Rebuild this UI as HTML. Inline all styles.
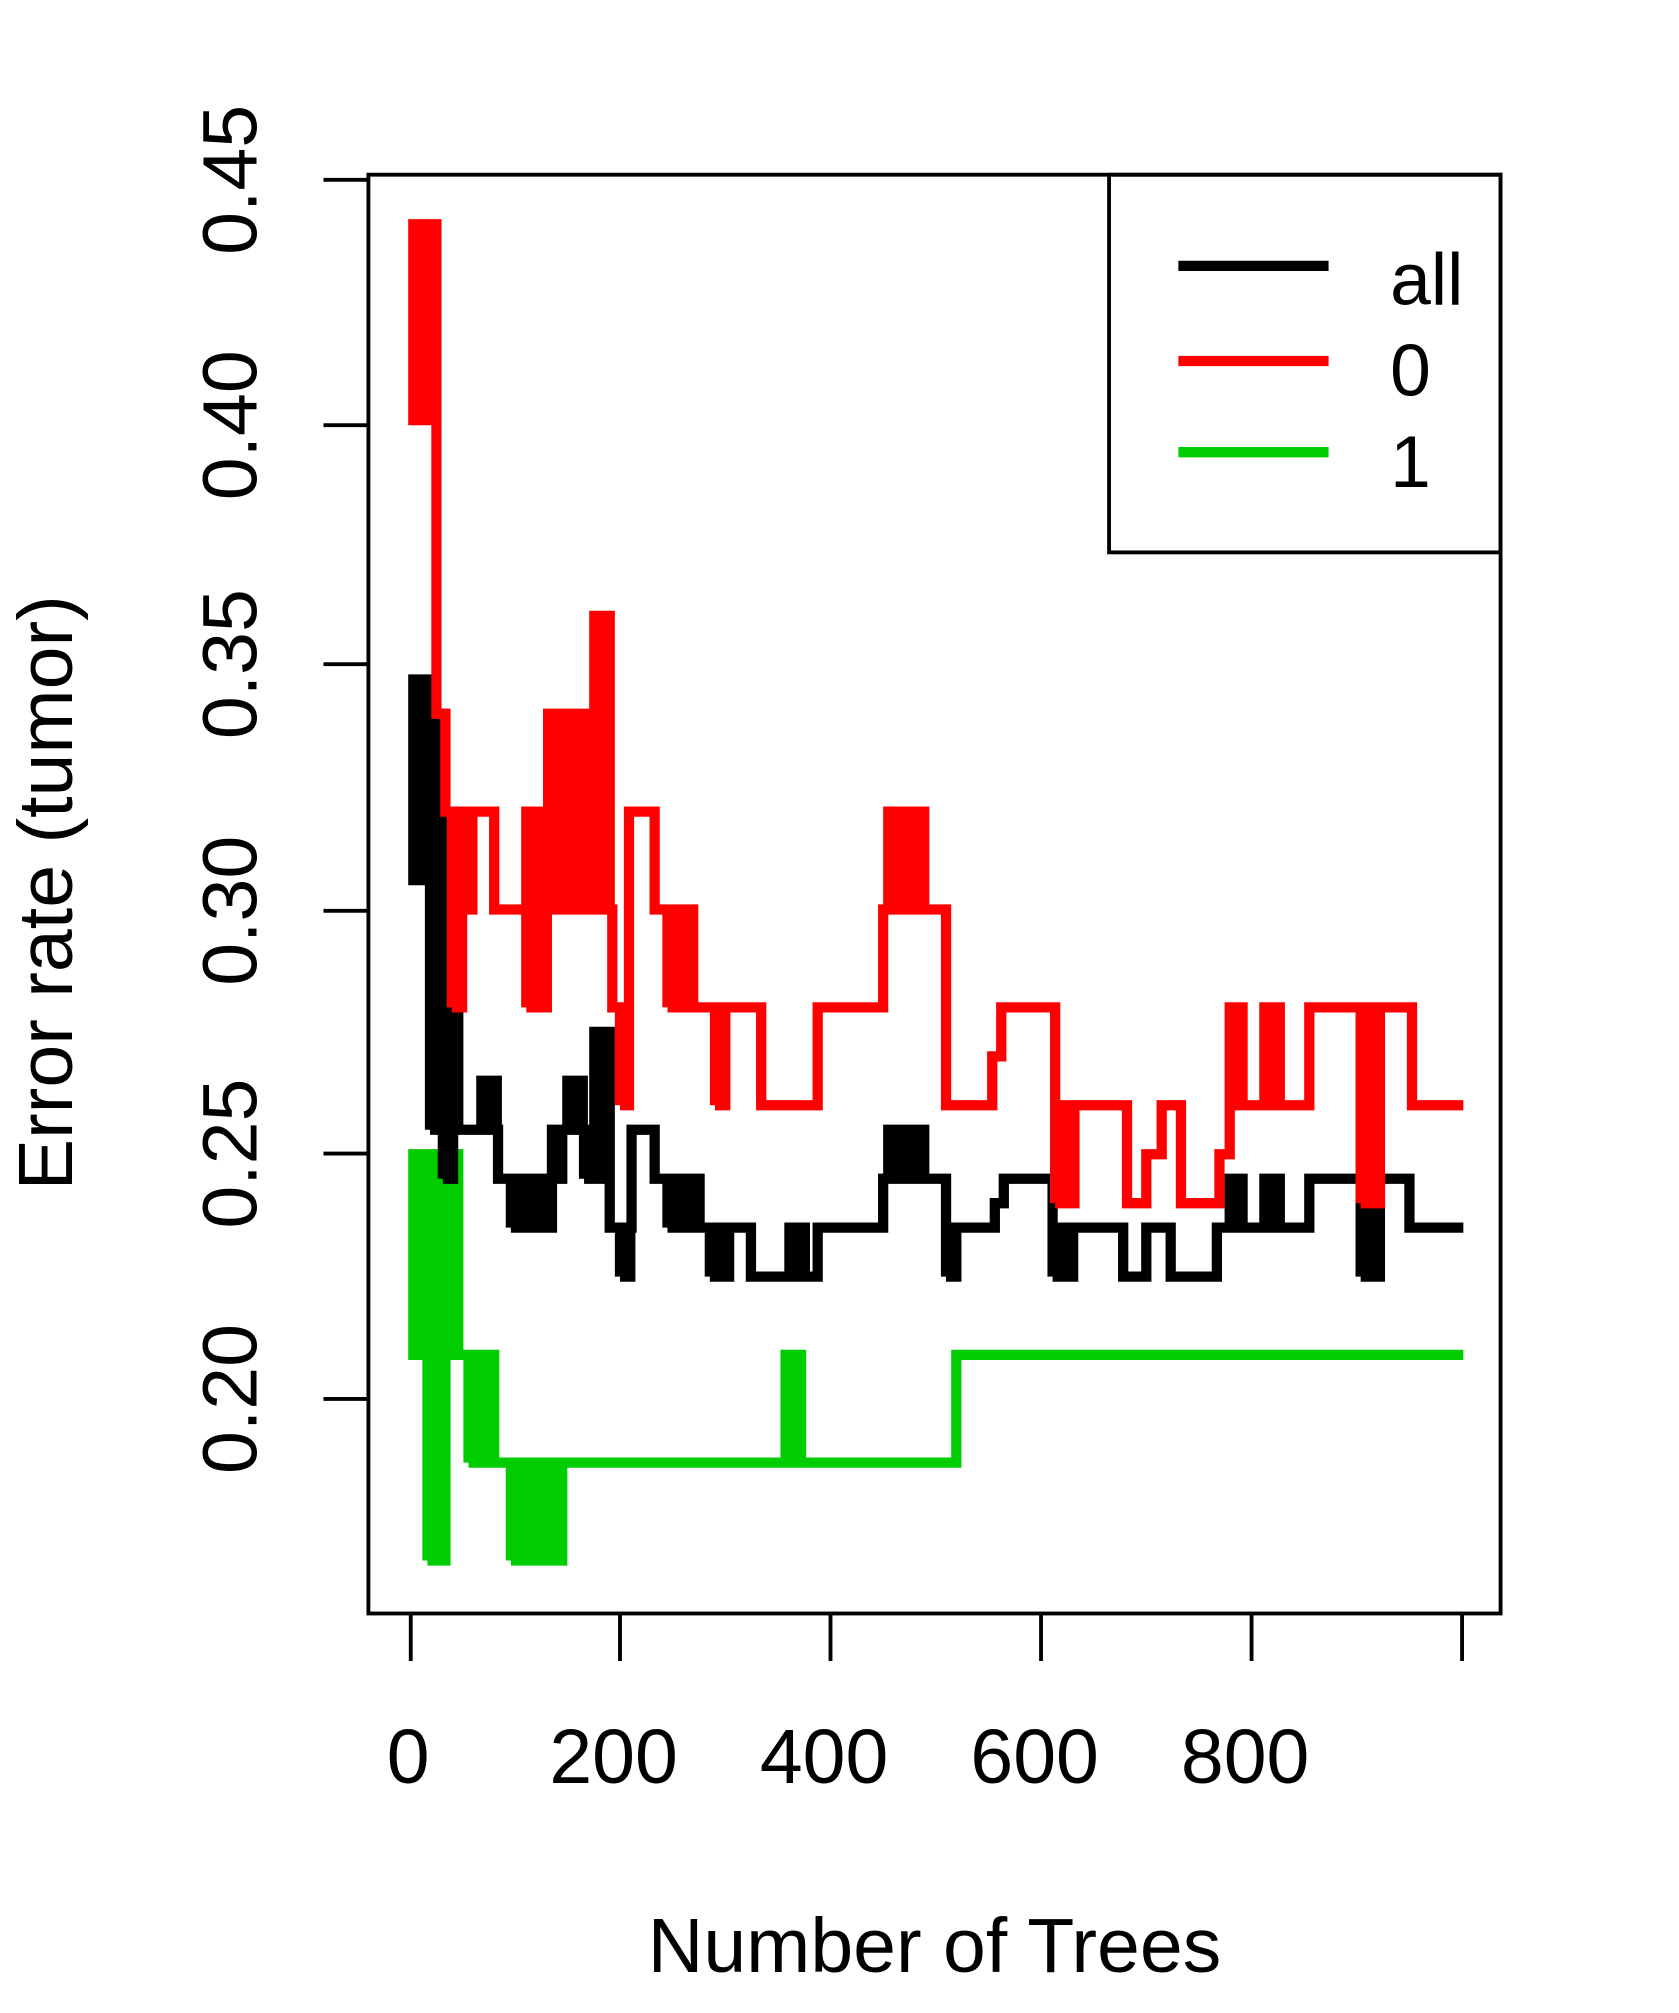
<!DOCTYPE html>
<html><head><meta charset="utf-8"><style>
html,body{margin:0;padding:0;background:#fff;}
svg{display:block;}
text{font-family:"Liberation Sans",Arial,sans-serif;}
</style></head><body>
<svg id="s" width="1679" height="2013" viewBox="0 0 1308 1567" preserveAspectRatio="none" xmlns="http://www.w3.org/2000/svg">
<rect x="0" y="0" width="1308" height="1567" fill="#fff"/>
<g id="series"></g>
<rect x="287" y="136" width="882" height="1120" fill="none" stroke="#000" stroke-width="3"/>
<rect x="864" y="136" width="305" height="294" fill="none" stroke="#000" stroke-width="3"/>
<line x1="918" y1="207" x2="1035" y2="207" stroke="#000" stroke-width="8"/>
<line x1="918" y1="281" x2="1035" y2="281" stroke="#ff0000" stroke-width="8"/>
<line x1="918" y1="352" x2="1035" y2="352" stroke="#00cd00" stroke-width="8"/>
<text x="1083" y="237" font-size="57">all</text>
<text x="1083" y="308" font-size="57">0</text>
<text x="1083" y="379" font-size="57">1</text>
<g stroke="#000" stroke-width="3">
<line x1="252" y1="140" x2="287" y2="140"/><line x1="252" y1="331" x2="287" y2="331"/>
<line x1="252" y1="517" x2="287" y2="517"/><line x1="252" y1="709" x2="287" y2="709"/>
<line x1="252" y1="898" x2="287" y2="898"/><line x1="252" y1="1089" x2="287" y2="1089"/>
<line x1="320" y1="1256" x2="320" y2="1293"/><line x1="483" y1="1256" x2="483" y2="1293"/>
<line x1="647" y1="1256" x2="647" y2="1293"/><line x1="811" y1="1256" x2="811" y2="1293"/>
<line x1="975" y1="1256" x2="975" y2="1293"/><line x1="1139" y1="1256" x2="1139" y2="1293"/>
</g>
<g font-size="60" text-anchor="middle">
<text x="318" y="1388">0</text><text x="478" y="1388">200</text><text x="642" y="1388">400</text>
<text x="806" y="1388">600</text><text x="970" y="1388">800</text>
<text x="200" y="140" transform="rotate(-90 200 140)">0.45</text>
<text x="200" y="331" transform="rotate(-90 200 331)">0.40</text>
<text x="200" y="517" transform="rotate(-90 200 517)">0.35</text>
<text x="200" y="709" transform="rotate(-90 200 709)">0.30</text>
<text x="200" y="898" transform="rotate(-90 200 898)">0.25</text>
<text x="200" y="1089" transform="rotate(-90 200 1089)">0.20</text>
<text x="728" y="1535">Number of Trees</text>
<text x="56" y="695" transform="rotate(-90 56 695)">Error rate (tumor)</text>
</g>
</svg>
<script>
function Y(v){return 1089-(v-0.20)*3810;}
function build(segs,color){
  var d="",first=true;
  segs.forEach(function(s){
    var x0=s[0],x1=s[1],a=Y(s[2]),b=Y(s[3]!==undefined?s[3]:s[2]);
    if(first){d+="M"+x0+" "+a;first=false;}else{d+=" L"+x0+" "+a;}
    if(a===b){d+=" L"+x1+" "+a;}
    else{var cur=a;for(var x=x0;x<x1;x+=4){d+=" L"+x+" "+cur;cur=(cur===a)?b:a;d+=" L"+x+" "+cur;}d+=" L"+x1+" "+cur;}
  });
  var p=document.createElementNS("http://www.w3.org/2000/svg","path");
  p.setAttribute("d",d);p.setAttribute("fill","none");p.setAttribute("stroke",color);
  p.setAttribute("stroke-width","8");p.setAttribute("stroke-linejoin","miter");
  document.getElementById("series").appendChild(p);
}
var black=[[318,322,0.306],[322,335,0.306,0.347],[335,345,0.255,0.34],[345,357,0.245,0.28],[357,375,0.255],[375,388,0.255,0.265],[388,398,0.245],[398,430,0.235,0.245],[430,442,0.245,0.255],[442,455,0.255,0.265],[455,463,0.245,0.255],[463,475,0.245,0.275],[475,483,0.235],[483,492,0.225,0.235],[492,510,0.255],[510,520,0.245],[520,545,0.235,0.245],[545,553,0.235],[553,568,0.225,0.235],[568,585,0.235],[585,615,0.225],[615,630,0.225,0.235],[630,637,0.225],[637,688,0.235],[688,692,0.245],[692,722,0.245,0.255],[722,737,0.245],[737,745,0.225,0.235],[745,775,0.235],[775,782,0.24],[782,820,0.245],[820,837,0.225,0.235],[837,875,0.235],[875,893,0.225],[893,912,0.235],[912,948,0.225],[948,958,0.235],[958,968,0.235,0.245],[968,985,0.235],[985,1000,0.235,0.245],[1000,1020,0.235],[1020,1060,0.245],[1060,1075,0.225,0.245],[1075,1098,0.245],[1098,1140,0.235]];
var red=[[318,322,0.40],[322,340,0.40,0.44],[340,347,0.34],[347,352,0.32],[352,362,0.28,0.32],[362,368,0.30],[368,385,0.32],[385,410,0.30],[410,427,0.28,0.32],[427,457,0.30,0.34],[457,463,0.30],[463,477,0.30,0.36],[477,483,0.28],[483,490,0.26,0.28],[490,510,0.32],[510,520,0.30],[520,542,0.28,0.30],[542,557,0.28],[557,568,0.26,0.28],[568,593,0.28],[593,637,0.26],[637,688,0.28],[688,692,0.30],[692,722,0.30,0.32],[722,737,0.30],[737,773,0.26],[773,780,0.27],[780,822,0.28],[822,837,0.24,0.26],[837,878,0.26],[878,893,0.24],[893,905,0.25],[905,920,0.26],[920,950,0.24],[950,958,0.25],[958,968,0.26,0.28],[968,985,0.26],[985,1000,0.26,0.28],[1000,1020,0.26],[1020,1060,0.28],[1060,1075,0.24,0.28],[1075,1100,0.28],[1100,1140,0.26]];
var green=[[318,322,0.209],[322,333,0.209,0.25],[333,347,0.167,0.25],[347,357,0.209,0.25],[357,365,0.209],[365,388,0.187,0.209],[388,398,0.187],[398,440,0.167,0.187],[440,612,0.187],[612,626,0.187,0.209],[626,745,0.187],[745,1140,0.209]];
build(green,"#00cd00");build(black,"#000");build(red,"#ff0000");
</script>
</body></html>
